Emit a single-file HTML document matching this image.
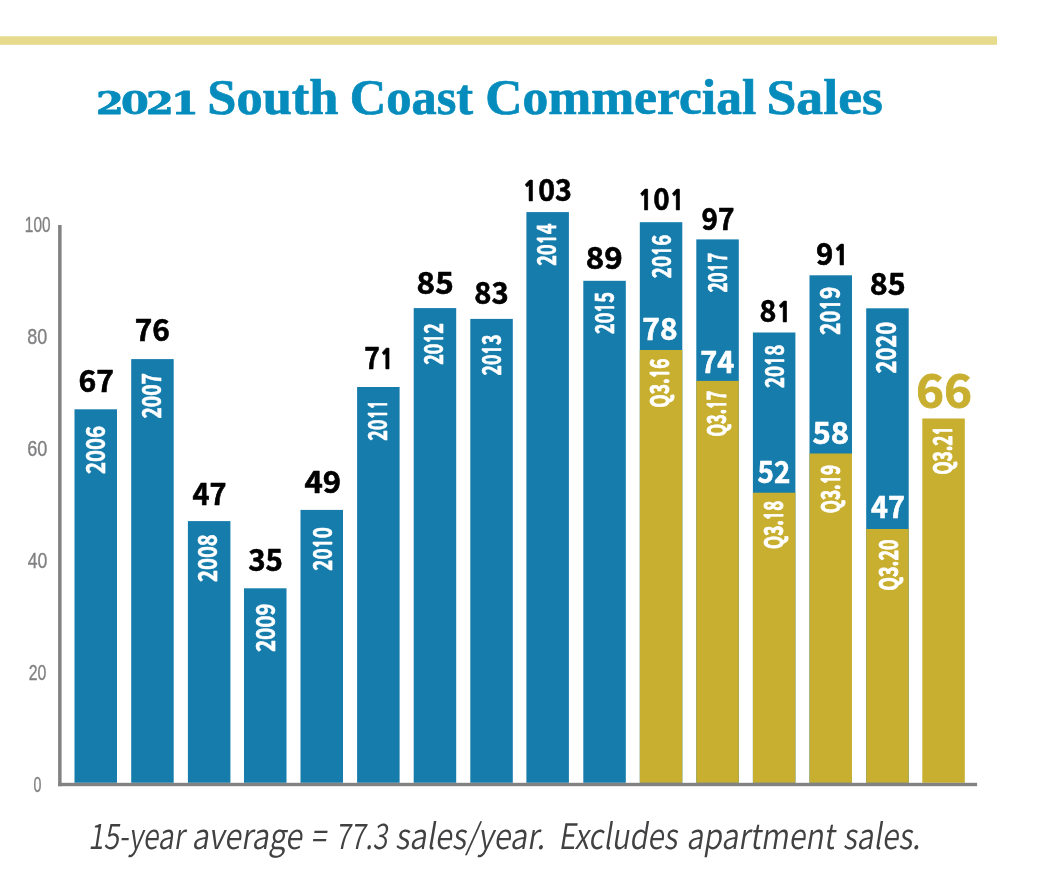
<!DOCTYPE html>
<html lang="en"><head><meta charset="utf-8"><title>2021 South Coast Commercial Sales</title>
<style>html,body{margin:0;padding:0;background:#fff}svg{display:block}text{white-space:pre}</style></head>
<body><svg width="1038" height="880" viewBox="0 0 1038 880">
<rect width="1038" height="880" fill="#fff"/>
<rect x="0" y="36.3" width="997" height="8.5" fill="#e6da8c"/>
<rect x="74.50" y="409.3" width="42.5" height="373.5" fill="#157cac"/>
<rect x="131.20" y="359.1" width="42.5" height="423.7" fill="#157cac"/>
<rect x="187.90" y="521.1" width="42.5" height="261.7" fill="#157cac"/>
<rect x="244.00" y="588.3" width="42.5" height="194.5" fill="#157cac"/>
<rect x="300.50" y="509.9" width="42.5" height="272.9" fill="#157cac"/>
<rect x="357.10" y="387" width="42.5" height="395.8" fill="#157cac"/>
<rect x="413.70" y="308.1" width="42.5" height="474.7" fill="#157cac"/>
<rect x="470.30" y="318.9" width="42.5" height="463.9" fill="#157cac"/>
<rect x="526.40" y="212.1" width="42.5" height="570.7" fill="#157cac"/>
<rect x="583.30" y="280.8" width="42.5" height="502.0" fill="#157cac"/>
<rect x="639.80" y="222.2" width="42.5" height="560.6" fill="#157cac"/>
<rect x="696.30" y="239.4" width="42.5" height="543.4" fill="#157cac"/>
<rect x="752.90" y="332.5" width="42.5" height="450.3" fill="#157cac"/>
<rect x="809.50" y="275.3" width="42.5" height="507.5" fill="#157cac"/>
<rect x="866.20" y="308.3" width="42.5" height="474.5" fill="#157cac"/>
<rect x="639.80" y="350" width="42.5" height="432.8" fill="#c8af30"/>
<rect x="696.30" y="380.9" width="42.5" height="401.9" fill="#c8af30"/>
<rect x="752.90" y="492.7" width="42.5" height="290.1" fill="#c8af30"/>
<rect x="809.50" y="453.5" width="42.5" height="329.3" fill="#c8af30"/>
<rect x="866.20" y="529" width="42.5" height="253.8" fill="#c8af30"/>
<rect x="922.30" y="418.5" width="42.5" height="364.3" fill="#c8af30"/>
<rect x="58.1" y="225" width="3.5" height="561.2" fill="#828283"/>
<rect x="58.1" y="782.8" width="919" height="3.4" fill="#828283"/>
<text transform="translate(78.50,391.60) scale(0.9866,1)" style="font-family:'Noto Sans CJK SC','Liberation Sans',sans-serif;font-weight:bold;font-style:normal;font-size:30.5px;" fill="#000" stroke="#000" stroke-width="0.6" stroke-linejoin="round">67</text>
<text transform="translate(134.81,340.70) scale(0.9746,1)" style="font-family:'Noto Sans CJK SC','Liberation Sans',sans-serif;font-weight:bold;font-style:normal;font-size:30.5px;" fill="#000" stroke="#000" stroke-width="0.6" stroke-linejoin="round">76</text>
<text transform="translate(192.52,504.60) scale(0.9452,1)" style="font-family:'Noto Sans CJK SC','Liberation Sans',sans-serif;font-weight:bold;font-style:normal;font-size:30.5px;" fill="#000" stroke="#000" stroke-width="0.6" stroke-linejoin="round">47</text>
<text transform="translate(248.16,570.70) scale(0.9657,1)" style="font-family:'Noto Sans CJK SC','Liberation Sans',sans-serif;font-weight:bold;font-style:normal;font-size:30.5px;" fill="#000" stroke="#000" stroke-width="0.6" stroke-linejoin="round">35</text>
<text transform="translate(304.38,493.00) scale(1.0191,1)" style="font-family:'Noto Sans CJK SC','Liberation Sans',sans-serif;font-weight:bold;font-style:normal;font-size:30.5px;" fill="#000" stroke="#000" stroke-width="0.6" stroke-linejoin="round">49</text>
<text transform="translate(364.18,369.00) scale(0.8645,1)" style="font-family:'Noto Sans CJK SC','Liberation Sans',sans-serif;font-weight:bold;font-style:normal;font-size:30.5px;" fill="#000" stroke="#000" stroke-width="0.6" stroke-linejoin="round">7<tspan style="font-family:'NanumGothic','Noto Sans CJK SC','Liberation Sans',sans-serif;font-weight:800;font-size:0.9em">1</tspan></text>
<text transform="translate(416.58,293.90) scale(1.0322,1)" style="font-family:'Noto Sans CJK SC','Liberation Sans',sans-serif;font-weight:bold;font-style:normal;font-size:30.5px;" fill="#000" stroke="#000" stroke-width="0.6" stroke-linejoin="round">85</text>
<text transform="translate(474.29,304.00) scale(0.9563,1)" style="font-family:'Noto Sans CJK SC','Liberation Sans',sans-serif;font-weight:bold;font-style:normal;font-size:30.5px;" fill="#000" stroke="#000" stroke-width="0.6" stroke-linejoin="round">83</text>
<text transform="translate(522.59,200.50) scale(0.9347,1)" style="font-family:'Noto Sans CJK SC','Liberation Sans',sans-serif;font-weight:bold;font-style:normal;font-size:30.5px;" fill="#000" stroke="#000" stroke-width="0.6" stroke-linejoin="round"><tspan style="font-family:'NanumGothic','Noto Sans CJK SC','Liberation Sans',sans-serif;font-weight:800;font-size:0.9em">1</tspan>03</text>
<text transform="translate(585.69,268.70) scale(1.0274,1)" style="font-family:'Noto Sans CJK SC','Liberation Sans',sans-serif;font-weight:bold;font-style:normal;font-size:30.5px;" fill="#000" stroke="#000" stroke-width="0.6" stroke-linejoin="round">89</text>
<text transform="translate(638.06,210.30) scale(0.9119,1)" style="font-family:'Noto Sans CJK SC','Liberation Sans',sans-serif;font-weight:bold;font-style:normal;font-size:30.5px;" fill="#000" stroke="#000" stroke-width="0.6" stroke-linejoin="round"><tspan style="font-family:'NanumGothic','Noto Sans CJK SC','Liberation Sans',sans-serif;font-weight:800;font-size:0.9em">1</tspan>0<tspan style="font-family:'NanumGothic','Noto Sans CJK SC','Liberation Sans',sans-serif;font-weight:800;font-size:0.9em">1</tspan></text>
<text transform="translate(701.48,230.10) scale(0.9174,1)" style="font-family:'Noto Sans CJK SC','Liberation Sans',sans-serif;font-weight:bold;font-style:normal;font-size:30.5px;" fill="#000" stroke="#000" stroke-width="0.6" stroke-linejoin="round">97</text>
<text transform="translate(759.51,322.20) scale(0.9399,1)" style="font-family:'Noto Sans CJK SC','Liberation Sans',sans-serif;font-weight:bold;font-style:normal;font-size:30.5px;" fill="#000" stroke="#000" stroke-width="0.6" stroke-linejoin="round">8<tspan style="font-family:'NanumGothic','Noto Sans CJK SC','Liberation Sans',sans-serif;font-weight:800;font-size:0.9em">1</tspan></text>
<text transform="translate(815.92,265.40) scale(0.9637,1)" style="font-family:'Noto Sans CJK SC','Liberation Sans',sans-serif;font-weight:bold;font-style:normal;font-size:30.5px;" fill="#000" stroke="#000" stroke-width="0.6" stroke-linejoin="round">9<tspan style="font-family:'NanumGothic','Noto Sans CJK SC','Liberation Sans',sans-serif;font-weight:800;font-size:0.9em">1</tspan></text>
<text transform="translate(869.73,294.90) scale(0.9988,1)" style="font-family:'Noto Sans CJK SC','Liberation Sans',sans-serif;font-weight:bold;font-style:normal;font-size:30.5px;" fill="#000" stroke="#000" stroke-width="0.6" stroke-linejoin="round">85</text>
<text transform="translate(642.31,339.60) scale(0.9791,1)" style="font-family:'Noto Sans CJK SC','Liberation Sans',sans-serif;font-weight:bold;font-style:normal;font-size:30.5px;" fill="#fff" stroke="#fff" stroke-width="0.6" stroke-linejoin="round">78</text>
<text transform="translate(700.16,372.70) scale(0.9449,1)" style="font-family:'Noto Sans CJK SC','Liberation Sans',sans-serif;font-weight:bold;font-style:normal;font-size:30.5px;" fill="#fff" stroke="#fff" stroke-width="0.6" stroke-linejoin="round">74</text>
<text transform="translate(757.51,482.60) scale(0.9109,1)" style="font-family:'Noto Sans CJK SC','Liberation Sans',sans-serif;font-weight:bold;font-style:normal;font-size:30.5px;" fill="#fff" stroke="#fff" stroke-width="0.6" stroke-linejoin="round">52</text>
<text transform="translate(812.52,443.70) scale(1.0191,1)" style="font-family:'Noto Sans CJK SC','Liberation Sans',sans-serif;font-weight:bold;font-style:normal;font-size:30.5px;" fill="#fff" stroke="#fff" stroke-width="0.6" stroke-linejoin="round">58</text>
<text transform="translate(871.03,517.50) scale(0.9423,1)" style="font-family:'Noto Sans CJK SC','Liberation Sans',sans-serif;font-weight:bold;font-style:normal;font-size:30.5px;" fill="#fff" stroke="#fff" stroke-width="0.6" stroke-linejoin="round">47</text>
<text transform="translate(916.03,407.30) scale(1.0683,1)" style="font-family:'Noto Sans CJK SC','Liberation Sans',sans-serif;font-weight:bold;font-style:normal;font-size:44.4px;" fill="#c8af30" stroke="#c8af30" stroke-width="0.8" stroke-linejoin="round">66</text>
<text transform="translate(104.75,473.91) rotate(-90) scale(0.7857,1)" style="font-family:'Noto Sans CJK SC','Liberation Sans',sans-serif;font-weight:bold;font-style:normal;font-size:25.9px;" fill="#fff" stroke="#fff" stroke-width="0.6" stroke-linejoin="round">2006</text>
<text transform="translate(161.45,418.47) rotate(-90) scale(0.7417,1)" style="font-family:'Noto Sans CJK SC','Liberation Sans',sans-serif;font-weight:bold;font-style:normal;font-size:25.9px;" fill="#fff" stroke="#fff" stroke-width="0.6" stroke-linejoin="round">2007</text>
<text transform="translate(217.25,582.01) rotate(-90) scale(0.7824,1)" style="font-family:'Noto Sans CJK SC','Liberation Sans',sans-serif;font-weight:bold;font-style:normal;font-size:25.9px;" fill="#fff" stroke="#fff" stroke-width="0.6" stroke-linejoin="round">2008</text>
<text transform="translate(275.25,652.12) rotate(-90) scale(0.7977,1)" style="font-family:'Noto Sans CJK SC','Liberation Sans',sans-serif;font-weight:bold;font-style:normal;font-size:25.9px;" fill="#fff" stroke="#fff" stroke-width="0.6" stroke-linejoin="round">2009</text>
<text transform="translate(331.65,570.66) rotate(-90) scale(0.7256,1)" style="font-family:'Noto Sans CJK SC','Liberation Sans',sans-serif;font-weight:bold;font-style:normal;font-size:25.9px;" fill="#fff" stroke="#fff" stroke-width="0.6" stroke-linejoin="round">20<tspan style="font-family:'NanumGothic','Noto Sans CJK SC','Liberation Sans',sans-serif;font-weight:800;font-size:0.9em">1</tspan>0</text>
<text transform="translate(387.35,440.63) rotate(-90) scale(0.6986,1)" style="font-family:'Noto Sans CJK SC','Liberation Sans',sans-serif;font-weight:bold;font-style:normal;font-size:25.9px;" fill="#fff" stroke="#fff" stroke-width="0.6" stroke-linejoin="round">20<tspan style="font-family:'NanumGothic','Noto Sans CJK SC','Liberation Sans',sans-serif;font-weight:800;font-size:0.9em">11</tspan></text>
<text transform="translate(442.75,364.83) rotate(-90) scale(0.6943,1)" style="font-family:'Noto Sans CJK SC','Liberation Sans',sans-serif;font-weight:bold;font-style:normal;font-size:25.9px;" fill="#fff" stroke="#fff" stroke-width="0.6" stroke-linejoin="round">20<tspan style="font-family:'NanumGothic','Noto Sans CJK SC','Liberation Sans',sans-serif;font-weight:800;font-size:0.9em">1</tspan>2</text>
<text transform="translate(501.25,375.52) rotate(-90) scale(0.6837,1)" style="font-family:'Noto Sans CJK SC','Liberation Sans',sans-serif;font-weight:bold;font-style:normal;font-size:25.9px;" fill="#fff" stroke="#fff" stroke-width="0.6" stroke-linejoin="round">20<tspan style="font-family:'NanumGothic','Noto Sans CJK SC','Liberation Sans',sans-serif;font-weight:800;font-size:0.9em">1</tspan>3</text>
<text transform="translate(555.75,265.63) rotate(-90) scale(0.7001,1)" style="font-family:'Noto Sans CJK SC','Liberation Sans',sans-serif;font-weight:bold;font-style:normal;font-size:25.9px;" fill="#fff" stroke="#fff" stroke-width="0.6" stroke-linejoin="round">20<tspan style="font-family:'NanumGothic','Noto Sans CJK SC','Liberation Sans',sans-serif;font-weight:800;font-size:0.9em">1</tspan>4</text>
<text transform="translate(613.55,334.03) rotate(-90) scale(0.6993,1)" style="font-family:'Noto Sans CJK SC','Liberation Sans',sans-serif;font-weight:bold;font-style:normal;font-size:25.9px;" fill="#fff" stroke="#fff" stroke-width="0.6" stroke-linejoin="round">20<tspan style="font-family:'NanumGothic','Noto Sans CJK SC','Liberation Sans',sans-serif;font-weight:800;font-size:0.9em">1</tspan>5</text>
<text transform="translate(671.25,278.16) rotate(-90) scale(0.7239,1)" style="font-family:'Noto Sans CJK SC','Liberation Sans',sans-serif;font-weight:bold;font-style:normal;font-size:25.9px;" fill="#fff" stroke="#fff" stroke-width="0.6" stroke-linejoin="round">20<tspan style="font-family:'NanumGothic','Noto Sans CJK SC','Liberation Sans',sans-serif;font-weight:800;font-size:0.9em">1</tspan>6</text>
<text transform="translate(726.85,292.60) rotate(-90) scale(0.6666,1)" style="font-family:'Noto Sans CJK SC','Liberation Sans',sans-serif;font-weight:bold;font-style:normal;font-size:25.9px;" fill="#fff" stroke="#fff" stroke-width="0.6" stroke-linejoin="round">20<tspan style="font-family:'NanumGothic','Noto Sans CJK SC','Liberation Sans',sans-serif;font-weight:800;font-size:0.9em">1</tspan>7</text>
<text transform="translate(784.05,388.05) rotate(-90) scale(0.7221,1)" style="font-family:'Noto Sans CJK SC','Liberation Sans',sans-serif;font-weight:bold;font-style:normal;font-size:25.9px;" fill="#fff" stroke="#fff" stroke-width="0.6" stroke-linejoin="round">20<tspan style="font-family:'NanumGothic','Noto Sans CJK SC','Liberation Sans',sans-serif;font-weight:800;font-size:0.9em">1</tspan>8</text>
<text transform="translate(839.65,334.93) rotate(-90) scale(0.7473,1)" style="font-family:'Noto Sans CJK SC','Liberation Sans',sans-serif;font-weight:bold;font-style:normal;font-size:27.842499999999998px;" fill="#fff" stroke="#fff" stroke-width="0.6" stroke-linejoin="round">20<tspan style="font-family:'NanumGothic','Noto Sans CJK SC','Liberation Sans',sans-serif;font-weight:800;font-size:0.9em">1</tspan>9</text>
<text transform="translate(896.45,373.47) rotate(-90) scale(0.7861,1)" style="font-family:'Noto Sans CJK SC','Liberation Sans',sans-serif;font-weight:bold;font-style:normal;font-size:27.842499999999998px;" fill="#fff" stroke="#fff" stroke-width="0.6" stroke-linejoin="round">2020</text>
<text transform="translate(668.70,407.71) rotate(-90) scale(0.6730,1)" style="font-family:'Noto Sans CJK SC','Liberation Sans',sans-serif;font-weight:bold;font-style:normal;font-size:25.9px;" fill="#fff" stroke="#fff" stroke-width="0.9" stroke-linejoin="round">Q3.<tspan style="font-family:'NanumGothic','Noto Sans CJK SC','Liberation Sans',sans-serif;font-weight:800;font-size:0.9em">1</tspan>6</text>
<text transform="translate(726.20,436.45) rotate(-90) scale(0.6286,1)" style="font-family:'Noto Sans CJK SC','Liberation Sans',sans-serif;font-weight:bold;font-style:normal;font-size:25.9px;" fill="#fff" stroke="#fff" stroke-width="0.9" stroke-linejoin="round">Q3.<tspan style="font-family:'NanumGothic','Noto Sans CJK SC','Liberation Sans',sans-serif;font-weight:800;font-size:0.9em">1</tspan>7</text>
<text transform="translate(783.00,548.99) rotate(-90) scale(0.6615,1)" style="font-family:'Noto Sans CJK SC','Liberation Sans',sans-serif;font-weight:bold;font-style:normal;font-size:25.9px;" fill="#fff" stroke="#fff" stroke-width="0.9" stroke-linejoin="round">Q3.<tspan style="font-family:'NanumGothic','Noto Sans CJK SC','Liberation Sans',sans-serif;font-weight:800;font-size:0.9em">1</tspan>8</text>
<text transform="translate(839.60,513.30) rotate(-90) scale(0.6641,1)" style="font-family:'Noto Sans CJK SC','Liberation Sans',sans-serif;font-weight:bold;font-style:normal;font-size:25.9px;" fill="#fff" stroke="#fff" stroke-width="0.9" stroke-linejoin="round">Q3.<tspan style="font-family:'NanumGothic','Noto Sans CJK SC','Liberation Sans',sans-serif;font-weight:800;font-size:0.9em">1</tspan>9</text>
<text transform="translate(897.60,590.73) rotate(-90) scale(0.6912,1)" style="font-family:'Noto Sans CJK SC','Liberation Sans',sans-serif;font-weight:bold;font-style:normal;font-size:25.9px;" fill="#fff" stroke="#fff" stroke-width="0.9" stroke-linejoin="round">Q3.20</text>
<text transform="translate(952.40,474.80) rotate(-90) scale(0.6687,1)" style="font-family:'Noto Sans CJK SC','Liberation Sans',sans-serif;font-weight:bold;font-style:normal;font-size:25.9px;" fill="#fff" stroke="#fff" stroke-width="0.9" stroke-linejoin="round">Q3.2<tspan style="font-family:'NanumGothic','Noto Sans CJK SC','Liberation Sans',sans-serif;font-weight:800;font-size:0.9em">1</tspan></text>
<text transform="translate(24.82,232.42) scale(0.7265,1)" style="font-family:'Liberation Sans',sans-serif;font-weight:normal;font-style:normal;font-size:21.2px;" fill="#808183" stroke="#808183" stroke-width="0.35" stroke-linejoin="round">100</text>
<text transform="translate(27.36,344.23) scale(0.8495,1)" style="font-family:'Liberation Sans',sans-serif;font-weight:normal;font-style:normal;font-size:21.2px;" fill="#808183" stroke="#808183" stroke-width="0.35" stroke-linejoin="round">80</text>
<text transform="translate(27.27,456.43) scale(0.8537,1)" style="font-family:'Liberation Sans',sans-serif;font-weight:normal;font-style:normal;font-size:21.2px;" fill="#808183" stroke="#808183" stroke-width="0.35" stroke-linejoin="round">60</text>
<text transform="translate(27.73,568.43) scale(0.8333,1)" style="font-family:'Liberation Sans',sans-serif;font-weight:normal;font-style:normal;font-size:21.2px;" fill="#808183" stroke="#808183" stroke-width="0.35" stroke-linejoin="round">40</text>
<text transform="translate(28.68,680.43) scale(0.7478,1)" style="font-family:'Liberation Sans',sans-serif;font-weight:normal;font-style:normal;font-size:21.2px;" fill="#808183" stroke="#808183" stroke-width="0.35" stroke-linejoin="round">20</text>
<text transform="translate(33.41,792.23) scale(0.6703,1)" style="font-family:'Liberation Sans',sans-serif;font-weight:normal;font-style:normal;font-size:21.2px;" fill="#808183" stroke="#808183" stroke-width="0.35" stroke-linejoin="round">0</text>
<text transform="translate(96.11,114.10) scale(1.2397,1)" style="font-family:'DejaVu Serif',serif;font-weight:bold;font-style:normal;font-size:32.2px;letter-spacing:-0.07em" fill="#058cbc" stroke="#058cbc" stroke-width="0.8" stroke-linejoin="round">2021</text>
<text transform="translate(207.26,114.15) scale(1.0494,1)" style="font-family:'Liberation Serif',serif;font-weight:bold;font-style:normal;font-size:50px;" fill="#058cbc" stroke="#058cbc" stroke-width="0.7" stroke-linejoin="round">South</text>
<text transform="translate(349.83,114.15) scale(1.0092,1)" style="font-family:'Liberation Serif',serif;font-weight:bold;font-style:normal;font-size:50px;" fill="#058cbc" stroke="#058cbc" stroke-width="0.7" stroke-linejoin="round">Coast</text>
<text transform="translate(485.17,114.15) scale(1.0316,1)" style="font-family:'Liberation Serif',serif;font-weight:bold;font-style:normal;font-size:50px;" fill="#058cbc" stroke="#058cbc" stroke-width="0.7" stroke-linejoin="round">Commercial</text>
<text transform="translate(766.50,114.15) scale(1.0743,1)" style="font-family:'Liberation Serif',serif;font-weight:bold;font-style:normal;font-size:50px;" fill="#058cbc" stroke="#058cbc" stroke-width="0.7" stroke-linejoin="round">Sales</text>
<text transform="translate(87.97,848.90) scale(0.7998,1) skewX(-11)" style="font-family:'Noto Sans CJK SC','Liberation Sans',sans-serif;font-weight:350;font-style:normal;font-size:35.2px;" fill="#414042">15-year</text>
<text transform="translate(191.41,848.90) scale(0.8671,1) skewX(-11)" style="font-family:'Noto Sans CJK SC','Liberation Sans',sans-serif;font-weight:350;font-style:normal;font-size:35.2px;" fill="#414042">average</text>
<text transform="translate(310.80,848.90) scale(0.7826,1) skewX(-11)" style="font-family:'Noto Sans CJK SC','Liberation Sans',sans-serif;font-weight:350;font-style:normal;font-size:35.2px;" fill="#414042">=</text>
<text transform="translate(335.34,848.90) scale(0.7720,1) skewX(-11)" style="font-family:'Noto Sans CJK SC','Liberation Sans',sans-serif;font-weight:350;font-style:normal;font-size:35.2px;" fill="#414042">77.3</text>
<text transform="translate(395.02,848.90) scale(0.8704,1) skewX(-11)" style="font-family:'Noto Sans CJK SC','Liberation Sans',sans-serif;font-weight:350;font-style:normal;font-size:35.2px;" fill="#414042">sales/year.</text>
<text transform="translate(558.36,848.90) scale(0.8362,1) skewX(-11)" style="font-family:'Noto Sans CJK SC','Liberation Sans',sans-serif;font-weight:350;font-style:normal;font-size:35.2px;" fill="#414042">Excludes</text>
<text transform="translate(686.23,848.90) scale(0.8578,1) skewX(-11)" style="font-family:'Noto Sans CJK SC','Liberation Sans',sans-serif;font-weight:350;font-style:normal;font-size:35.2px;" fill="#414042">apartment</text>
<text transform="translate(842.75,848.90) scale(0.8517,1) skewX(-11)" style="font-family:'Noto Sans CJK SC','Liberation Sans',sans-serif;font-weight:350;font-style:normal;font-size:35.2px;" fill="#414042">sales.</text>
</svg></body></html>
